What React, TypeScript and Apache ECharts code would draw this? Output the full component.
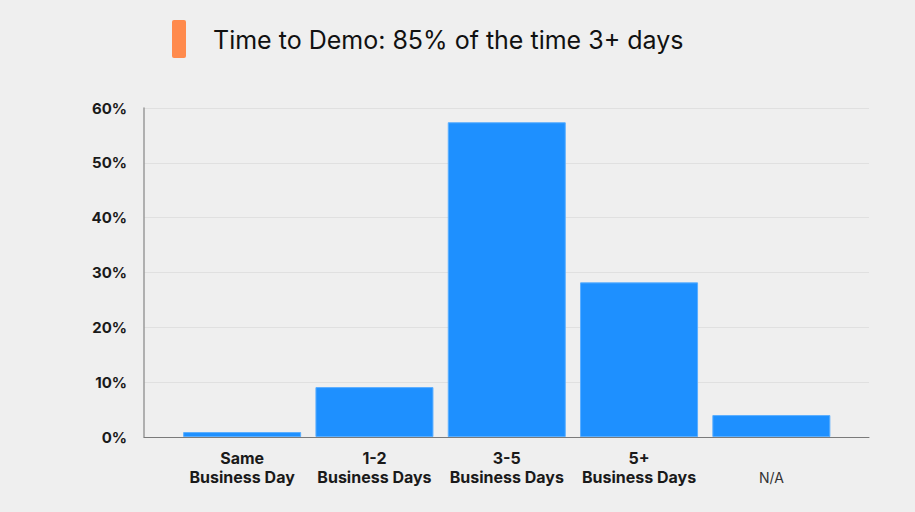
import React, { useRef, useEffect } from 'react';
import * as echarts from 'echarts';

const categories: string[] = ['Same\nBusiness Day', '1-2\nBusiness Days', '3-5\nBusiness Days', '5+\nBusiness Days', 'N/A'];
const shares: number[] = [0.9, 9.1, 57.4, 28.2, 4.0];
const seriesName = 'Time to Demo: 85% of the time 3+ days';
const yMax = 60;
const yStep = 10;

const FONT = 'Inter, "Noto Sans", sans-serif';

const App: React.FC = () => {
  const chartRef = useRef<HTMLDivElement>(null);

  useEffect(() => {
    document.body.style.margin = '0';
    document.body.style.background = '#efefef';
    let chart: echarts.ECharts | null = null;
    if (chartRef.current) {
      chart = echarts.init(chartRef.current, undefined, { renderer: 'svg' });
      const option: echarts.EChartsOption = {
        animation: false,
        backgroundColor: '#efefef',
        title: {
          text: seriesName,
          left: 208,
          top: 22,
          textStyle: { fontFamily: FONT, fontSize: 25, fontWeight: 'normal', color: '#111' },
        },
        graphic: [
          {
            type: 'rect',
            left: 172,
            top: 20,
            shape: { width: 14, height: 38, r: 2 },
            style: { fill: '#ff8a4c' },
          },
        ],
        grid: [
          { left: 144, right: 46, top: 108, bottom: 75 },
          { left: 176, right: 77.5, top: 108, bottom: 75 },
        ],
        xAxis: [
          {
            type: 'category',
            gridIndex: 0,
            data: [''],
            axisLine: { show: true, lineStyle: { color: '#7a7a7a', width: 1 } },
            axisTick: { show: false },
            axisLabel: { show: false },
          },
          {
            type: 'category',
            gridIndex: 1,
            data: categories,
            axisLine: { show: false },
            axisTick: { show: false },
            axisLabel: {
              margin: 11,
              interval: 0,
              formatter: (v: string) =>
                v === 'N/A'
                  ? '{e| }\n{n|N/A}'
                  : v.split('\n').map((s) => `{b|${s}}`).join('\n'),
              rich: {
                b: { fontFamily: FONT, fontSize: 16, fontWeight: 'bold', color: '#1a1a1a', lineHeight: 19.5 },
                n: { fontFamily: FONT, fontSize: 14, fontWeight: 'normal', color: '#333', lineHeight: 19.5 },
                e: { fontSize: 14, lineHeight: 19.5 },
              },
            },
          },
        ],
        yAxis: [
          {
            type: 'value',
            gridIndex: 0,
            min: 0,
            max: yMax,
            interval: yStep,
            axisLine: { show: true, lineStyle: { color: '#9a9a9a', width: 1.5 } },
            axisTick: { show: false },
            splitLine: { lineStyle: { color: '#e0e0e0', width: 1 } },
            axisLabel: {
              margin: 17,
              formatter: '{value}%',
              fontFamily: FONT,
              fontSize: 15,
              fontWeight: 'bold',
              color: '#1a1a1a',
            },
          },
          {
            type: 'value',
            gridIndex: 1,
            min: 0,
            max: yMax,
            interval: yStep,
            show: false,
            splitLine: { show: false },
          },
        ],
        series: [
          {
            name: seriesName,
            type: 'bar',
            xAxisIndex: 1,
            yAxisIndex: 1,
            data: shares,
            barWidth: 118,
            itemStyle: { color: '#1e90ff', borderColor: '#5aaeff', borderWidth: 1 },
          },
        ],
      };
      chart.setOption(option);
    }
    return () => {
      if (chart) {
        chart.dispose();
      }
    };
  }, []);

  return <div ref={chartRef} style={{ width: '915px', height: '512px' }} />;
};

export default App;
